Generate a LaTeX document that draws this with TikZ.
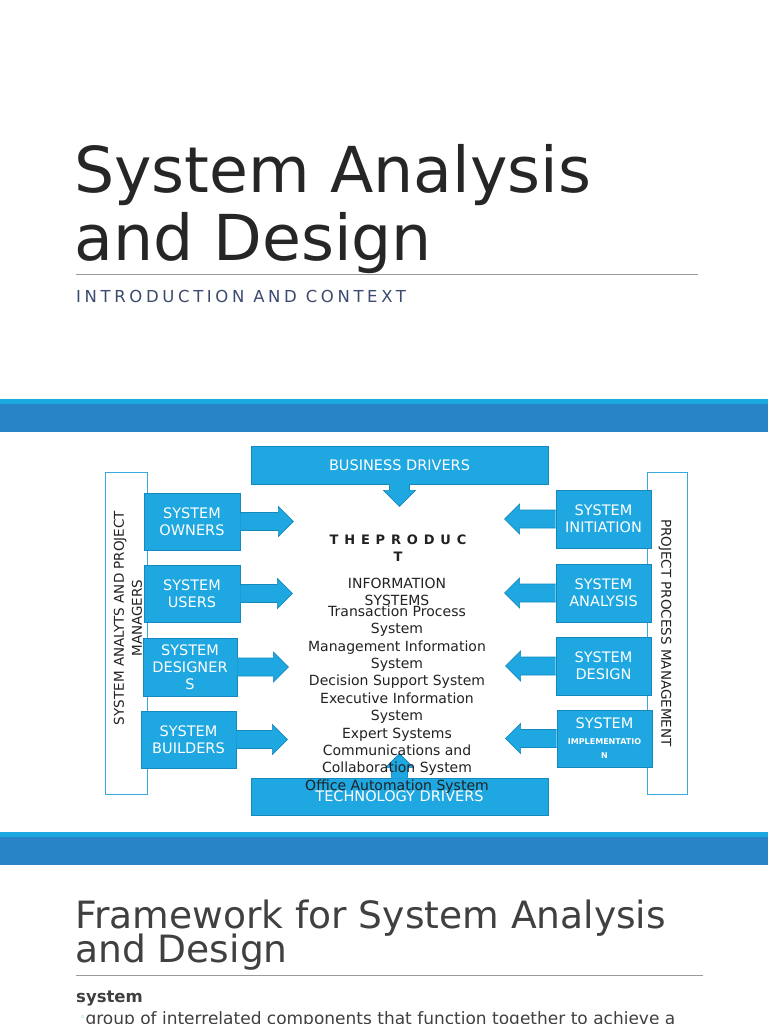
\documentclass[tikz,border=0pt]{standalone}
\usepackage{fontspec}
\setmainfont{DejaVu Sans}
\newfontfamily\introfont[LetterSpace=22]{DejaVu Sans}
\newfontfamily\prodfont[LetterSpace=10]{DejaVu Sans}
\usetikzlibrary{calc}
\definecolor{boxblue}{HTML}{1EA7E0}
\definecolor{boxedge}{HTML}{1589BE}
\definecolor{bandlight}{HTML}{1BA9E1}
\definecolor{bandmain}{HTML}{2884C6}
\definecolor{titlegray}{HTML}{262626}
\definecolor{introblue}{HTML}{3B4A6E}
\definecolor{framegray}{HTML}{404040}
\definecolor{rulegray}{HTML}{9A9A9A}
\definecolor{textdark}{HTML}{222222}
\definecolor{outlineblue}{HTML}{3AA9E0}
\newcommand\ArrR[2]{%
  \fill[boxblue] ($#1+(0,-9)$) -- ++({#2-15},0) -- ++(0,-6) -- ++(15,15) -- ++(-15,15) -- ++(0,-6) -- ++({-(#2-15)},0) -- cycle;
  \draw[boxedge,line width=0.6pt] ($#1+(0,-9)$) -- ++({#2-15},0) -- ++(0,-6) -- ++(15,15) -- ++(-15,15) -- ++(0,-6) -- ++({-(#2-15)},0);}
\newcommand\ArrL[2]{%
  \fill[boxblue] ($#1+(0,-9)$) -- ++({-(#2-15)},0) -- ++(0,-6) -- ++(-15,15) -- ++(15,15) -- ++(0,-6) -- ++({#2-15},0) -- cycle;
  \draw[boxedge,line width=0.6pt] ($#1+(0,-9)$) -- ++({-(#2-15)},0) -- ++(0,-6) -- ++(-15,15) -- ++(15,15) -- ++(0,-6) -- ++({#2-15},0);}
\newcommand\smallimp{\fontsize{8}{9.5}\selectfont\bfseries}
\begin{document}
\begin{tikzpicture}[x=1pt,y=-1pt,
  box/.style={fill=boxblue, draw=boxedge, line width=0.8pt, text=white, align=center,
    font=\fontsize{14.5}{17}\selectfont, inner sep=0pt, minimum width=95pt, minimum height=57pt},
  wide/.style={box, minimum width=297pt, minimum height=38pt},
  outline/.style={draw=outlineblue, line width=0.8pt, fill=white},
  band/.style={fill=bandmain},
  bandedge/.style={fill=bandlight},
  rulel/.style={draw=rulegray, line width=0.8pt}]
\useasboundingbox[fill=white] (0,0) rectangle (768,1024);
\clip (0,0) rectangle (768,1024);
% title
\node[anchor=base west, inner sep=0pt, text=titlegray, font=\fontsize{63.3}{64}\selectfont] (t1) at (74,193) {System Analysis};
\node[anchor=base west, inner sep=0pt, text=titlegray, font=\fontsize{63.3}{64}\selectfont] (t2) at (74,260) {and Design};
\coordinate (r1a) at (76,274); \coordinate (r1b) at (698,274);
\draw[rulel] (r1a) -- (r1b);
\node[anchor=base west, inner sep=0pt, text=introblue, font=\introfont\fontsize{16.5}{17}\selectfont] (intro) at (76,302) {INTRODUCTION AND CONTEXT};
% bands
\fill[bandedge] (0,399) rectangle (768,404);
\fill[band] (0,404) rectangle (768,432);
\fill[bandedge] (0,832) rectangle (768,837);
\fill[band] (0,837) rectangle (768,865);
% outline boxes
\node[outline, minimum width=42pt, minimum height=322pt, inner sep=0pt] (lout) at (126,633) {};
\node[outline, minimum width=40pt, minimum height=322pt, inner sep=0pt] (rout) at (667,633) {};
\node[rotate=90, align=center, text=textdark, font=\fontsize{13.5}{18}\selectfont, inner sep=0pt] (ltxt) at (128,618) {SYSTEM ANALYTS AND PROJECT\\MANAGERS};
\node[rotate=-90, text=textdark, font=\fontsize{13.5}{18}\selectfont, inner sep=0pt] (rtxt) at (665,633) {PROJECT PROCESS MANAGEMENT};
% left boxes
\node[box, minimum width=96pt] (own) at (192,521.5) {SYSTEM\\OWNERS};
\node[box, minimum width=96pt] (usr) at (192,593.5) {SYSTEM\\USERS};
\node[box, minimum width=94pt, minimum height=58pt] (des) at (190,667) {SYSTEM\\DESIGNER\\S};
\node[box] (bld) at (188.5,739.5) {SYSTEM\\BUILDERS};
% right boxes
\node[box, minimum height=58pt] (ini) at (603.5,519) {SYSTEM\\INITIATION};
\node[box, minimum height=58pt] (ana) at (603.5,593) {SYSTEM\\ANALYSIS};
\node[box, minimum height=58pt] (dsg) at (603.5,666) {SYSTEM\\DESIGN};
\node[box] (imp) at (604.5,738.5) {SYSTEM\\[-1pt]\smallimp IMPLEMENTATIO\\[-3pt]\smallimp N};
% arrows
\ArrR{(own.east)}{53}
\ArrR{(usr.east)}{52}
\ArrR{(des.east)}{51}
\ArrR{(bld.east)}{51}
\ArrL{(ini.west)}{51}
\ArrL{(ana.west)}{51}
\ArrL{(dsg.west)}{50}
\ArrL{(imp.west)}{51}
% drivers
\node[wide] (bus) at (399.5,465) {BUSINESS DRIVERS};
\node[wide, minimum height=37pt] (tech) at (399.5,796.5) {TECHNOLOGY DRIVERS};
\fill[boxblue] ($(bus.south)+(-10,-1)$) -- ++(0,7) -- ++(-6,0) -- ++(16,16) -- ++(16,-16) -- ++(-6,0) -- ++(0,-7) -- cycle;
\draw[boxedge,line width=0.6pt] ($(bus.south)+(-10,0)$) -- ++(0,6) -- ++(-6,0) -- ++(16,16) -- ++(16,-16) -- ++(-6,0) -- ++(0,-6);
\fill[boxblue] ($(tech.north)+(-8,1)$) -- ++(0,-11) -- ++(-6,0) -- ++(14,-14) -- ++(14,14) -- ++(-6,0) -- ++(0,11) -- cycle;
\draw[boxedge,line width=0.6pt] ($(tech.north)+(-8,0)$) -- ++(0,-10) -- ++(-6,0) -- ++(14,-14) -- ++(14,14) -- ++(-6,0) -- ++(0,10);
% product text
\node[align=center, text=textdark, font=\prodfont\fontsize{13}{17}\selectfont\bfseries, inner sep=0pt] (prod) at (398,548.5) {T H E P R O D U C\\T};
\node[align=center, text=textdark, font=\fontsize{14}{17}\selectfont, inner sep=0pt] (info) at (397,591.5) {INFORMATION\\SYSTEMS};
\node[align=center, text=textdark, font=\fontsize{14}{17.4}\selectfont, inner sep=0pt] (list) at (397,699.5) {Transaction Process\\System\\Management Information\\System\\Decision Support System\\Executive Information\\System\\Expert Systems\\Communications and\\Collaboration System\\Office Automation System};
% framework
\node[anchor=base west, inner sep=0pt, text=framegray, font=\fontsize{37.6}{38}\selectfont] (f1) at (75,928) {Framework for System Analysis};
\node[anchor=base west, inner sep=0pt, text=framegray, font=\fontsize{37.6}{38}\selectfont] (f2) at (75,962) {and Design};
\coordinate (r2a) at (76,975); \coordinate (r2b) at (703,975);
\draw[rulel] (r2a) -- (r2b);
\node[anchor=base west, inner sep=0pt, text=framegray, font=\fontsize{16.5}{17}\selectfont\bfseries] (sys) at (76,1002) {system};
\node[anchor=base west, inner sep=0pt, text=framegray, font=\fontsize{17}{17}\selectfont] (grp) at (80,1024) {{\color{outlineblue}\fontsize{9}{9}\selectfont\raisebox{4pt}{◦}}group of interrelated components that function together to achieve a};
\end{tikzpicture}
\end{document}
